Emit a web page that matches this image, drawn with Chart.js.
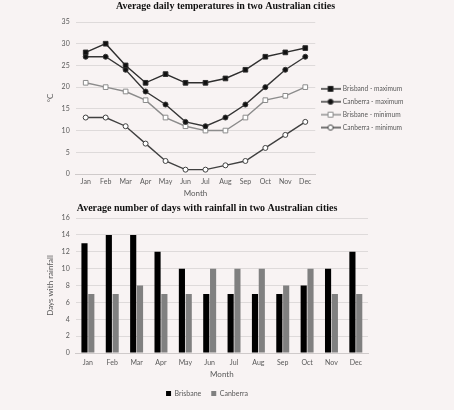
<!DOCTYPE html>
<html>
<head>
<meta charset="utf-8">
<script src="https://cdn.jsdelivr.net/npm/chart.js@4"></script>
<style>
  html, body { margin: 0; padding: 0; background: #f8f3f3; }
  #wrap1 { position: absolute; left: 0; top: 0; width: 454px; height: 200px; }
  #wrap2 { position: absolute; left: 0; top: 200px; width: 454px; height: 210px; }
</style>
</head>
<body>
<div id="wrap1"><canvas id="chart1"></canvas></div>
<div id="wrap2"><canvas id="chart2"></canvas></div>
<script>
// Datos
var meses = ["Jan", "Feb", "Mar", "Apr", "May", "Jun", "Jul", "Aug", "Sep", "Oct", "Nov", "Dec"];
var brisbaneMax = [28, 30, 25, 21, 23, 21, 21, 22, 24, 27, 28, 29];
var canberraMax = [27, 27, 24, 19, 16, 12, 11, 13, 16, 20, 24, 27];
var brisbaneMin = [21, 20, 19, 17, 13, 11, 10, 10, 13, 17, 18, 20];
var canberraMin = [13, 13, 11, 7, 3, 1, 1, 2, 3, 6, 9, 12];
var lluviaBrisbane = [13, 14, 14, 12, 10, 7, 7, 7, 7, 8, 10, 12];
var lluviaCanberra = [7, 7, 8, 7, 7, 10, 10, 10, 8, 10, 7, 7];

var textoGris = "#595959";
var rejilla = "#dedada";
var fuente = "Lato, sans-serif";

// Pequeño icono de linea + marcador para la leyenda
function iconoLeyenda(color, forma, relleno) {
    var c = document.createElement("canvas");
    c.width = 20; c.height = 8;
    var ctx = c.getContext("2d");
    ctx.strokeStyle = color;
    ctx.lineWidth = 1.4;
    ctx.beginPath(); ctx.moveTo(0, 4); ctx.lineTo(20, 4); ctx.stroke();
    ctx.fillStyle = relleno;
    ctx.lineWidth = 1;
    ctx.beginPath();
    if (forma == "rect") {
        ctx.rect(7.5, 1.5, 5, 5);
    } else {
        ctx.arc(10, 4, 2.6, 0, Math.PI * 2);
    }
    ctx.fill(); ctx.stroke();
    return c;
}

function serie(nombre, datos, color, forma, relleno) {
    return {
        label: nombre,
        data: datos,
        borderColor: color,
        backgroundColor: relleno,
        borderWidth: 1.4,
        pointStyle: forma == "rect" ? "rect" : "circle",
        pointRadius: forma == "rect" ? 3.3 : 2.5,
        pointBorderColor: color,
        pointBackgroundColor: relleno,
        pointBorderWidth: 1,
        tension: 0,
        icono: iconoLeyenda(color, forma, relleno)
    };
}

var datos1 = {
    labels: meses,
    datasets: [
        serie("Brisband - maximum", brisbaneMax, "#2e2e2e", "rect", "#111111"),
        serie("Canberra - maximum", canberraMax, "#363636", "circle", "#111111"),
        serie("Brisbane - minimum", brisbaneMin, "#8c8c8c", "rect", "#ffffff"),
        serie("Canberra - minimum", canberraMin, "#404040", "circle", "#ffffff")
    ]
};

new Chart(document.getElementById("chart1"), {
    type: "line",
    data: datos1,
    options: {
        responsive: true,
        maintainAspectRatio: false,
        animation: false,
        layout: { padding: { left: 46, right: 49, top: 0, bottom: 2 } },
        plugins: {
            title: {
                display: true,
                text: "Average daily temperatures in two Australian cities",
                font: { family: "'Liberation Serif', serif", size: 10, weight: "bold" },
                color: "#111",
                padding: { top: 0, bottom: 10 }
            },
            legend: {
                position: "right",
                align: "center",
                title: { display: true, text: " ", font: { size: 7 }, padding: 5 },
                labels: {
                    color: textoGris,
                    font: { family: fuente, size: 6.6 },
                    padding: 6.3,
                    usePointStyle: true,
                    pointStyleWidth: 18,
                    generateLabels: function (chart) {
                        return chart.data.datasets.map(function (ds, i) {
                            return {
                                text: ds.label,
                                pointStyle: ds.icono,
                                fontColor: textoGris,
                                lineWidth: 0,
                                datasetIndex: i
                            };
                        });
                    }
                }
            },
            tooltip: { enabled: false }
        },
        scales: {
            x: {
                offset: true,
                grid: { display: false, drawTicks: false },
                border: { color: "#cfcaca" },
                ticks: { color: textoGris, font: { family: fuente, size: 7 }, padding: 4, maxRotation: 0, autoSkip: false },
                title: { display: true, text: "Month", color: textoGris, font: { family: fuente, size: 8 }, padding: { top: -2, bottom: 0 } }
            },
            y: {
                min: 0, max: 35,
                ticks: { stepSize: 5, color: textoGris, font: { family: fuente, size: 7 }, padding: 6 },
                grid: { color: rejilla, drawTicks: false },
                border: { display: false },
                title: { display: true, text: "°C", color: textoGris, font: { family: fuente, size: 8 }, padding: 0 }
            }
        }
    }
});

// Grafico de barras de lluvia
new Chart(document.getElementById("chart2"), {
    type: "bar",
    data: {
        labels: meses,
        datasets: [
            { label: "Brisbane", data: lluviaBrisbane, backgroundColor: "#000000", categoryPercentage: 0.56, barPercentage: 0.9 },
            { label: "Canberra", data: lluviaCanberra, backgroundColor: "#808080", categoryPercentage: 0.56, barPercentage: 0.9 }
        ]
    },
    options: {
        responsive: true,
        maintainAspectRatio: false,
        animation: false,
        layout: { padding: { left: 46, right: 86, top: 2, bottom: 3 } },
        plugins: {
            title: {
                display: true,
                text: "Average number of days with rainfall in two Australian cities",
                font: { family: "'Liberation Serif', serif", size: 10, weight: "bold" },
                color: "#111",
                padding: { top: 0, bottom: 4 }
            },
            legend: {
                position: "bottom",
                labels: {
                    color: textoGris,
                    font: { family: fuente, size: 7 },
                    boxWidth: 5,
                    boxHeight: 5,
                    padding: 10
                }
            },
            tooltip: { enabled: false }
        },
        scales: {
            x: {
                grid: { display: false, drawTicks: false },
                border: { color: "#cfcaca" },
                ticks: { color: textoGris, font: { family: fuente, size: 7 }, padding: 6, maxRotation: 0, autoSkip: false },
                title: { display: true, text: "Month", color: textoGris, font: { family: fuente, size: 8 }, padding: { top: -4, bottom: 1 } }
            },
            y: {
                min: 0, max: 16,
                ticks: { stepSize: 2, color: textoGris, font: { family: fuente, size: 7 }, padding: 6 },
                grid: { color: rejilla, drawTicks: false },
                border: { display: false },
                title: { display: true, text: "Days with rainfall", color: textoGris, font: { family: fuente, size: 8 }, padding: 0 }
            }
        }
    }
});
</script>
</body>
</html>
